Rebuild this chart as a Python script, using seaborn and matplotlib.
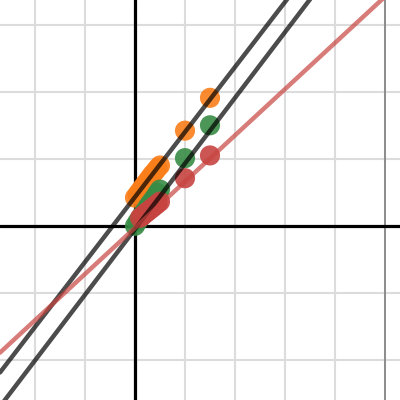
import seaborn as sns
import pandas as pd
import numpy as np
import matplotlib.pyplot as plt

# points
orange_x = [0.0, 0.05, 0.1, 0.15, 0.2, 0.25, 0.3, 0.35, 0.4, 0.45, 0.5, 1.0, 1.5]
orange_y = [0.42, 0.47, 0.52, 0.57, 0.62, 0.67, 0.72, 0.77, 0.81, 0.86, 0.90, 1.42, 1.91]
green_x = [0.0, 0.05, 0.1, 0.15, 0.2, 0.25, 0.3, 0.35, 0.4, 0.45, 0.5, 1.0, 1.5]
green_y = [0.0, 0.06, 0.11, 0.17, 0.22, 0.28, 0.33, 0.38, 0.43, 0.49, 0.54, 1.01, 1.50]
red_x = [0.1, 0.15, 0.2, 0.25, 0.3, 0.35, 0.4, 0.45, 0.5, 1.0, 1.5]
red_y = [0.12, 0.15, 0.18, 0.21, 0.24, 0.27, 0.30, 0.33, 0.36, 0.71, 1.05]

# fitted lines: (slope, intercept)
line_top = (0.97, 0.43)
line_mid = (0.98, -0.05)
line_red = (0.69, -0.03)

sns.set_theme(style="white")
fig = plt.figure(figsize=(4, 4), dpi=100)
ax = fig.add_axes([0, 0, 1, 1])

xmin, xmax = -2.7, 5.3
ymin, ymax = -2.6, 3.37

for gx in range(-2, 6):
    ax.axvline(gx, color="#dcdcdc", lw=1.5, zorder=0)
for gy in range(-2, 4):
    ax.axhline(gy, color="#dcdcdc", lw=1.5, zorder=0)
ax.axvline(5, color="#8c8c8c", lw=1.4, zorder=1)
ax.axhline(0, color="black", lw=2.3, zorder=1)
ax.axvline(0, color="black", lw=2.3, zorder=1)

pts = pd.DataFrame({
    "x": orange_x + green_x + red_x,
    "y": orange_y + green_y + red_y,
    "grp": ["o"] * len(orange_x) + ["g"] * len(green_x) + ["r"] * len(red_x),
})
sns.scatterplot(data=pts, x="x", y="y", hue="grp",
                palette={"o": "#fa7e19", "g": "#388c46", "r": "#c74440"},
                s=210, alpha=0.9, linewidth=0, legend=False, ax=ax, zorder=2)

xs = np.array([xmin, xmax])
for (m, b), col, a in [(line_top, "black", 0.7), (line_mid, "black", 0.7), (line_red, "#c74440", 0.7)]:
    sns.lineplot(x=xs, y=m * xs + b, color=col, alpha=a, lw=3.2, ax=ax, zorder=3)

ax.set_xlim(xmin, xmax)
ax.set_ylim(ymin, ymax)
ax.set_xticks([])
ax.set_yticks([])
ax.set_xlabel("")
ax.set_ylabel("")
for s in ax.spines.values():
    s.set_visible(False)

fig.savefig("out.png", dpi=100)
